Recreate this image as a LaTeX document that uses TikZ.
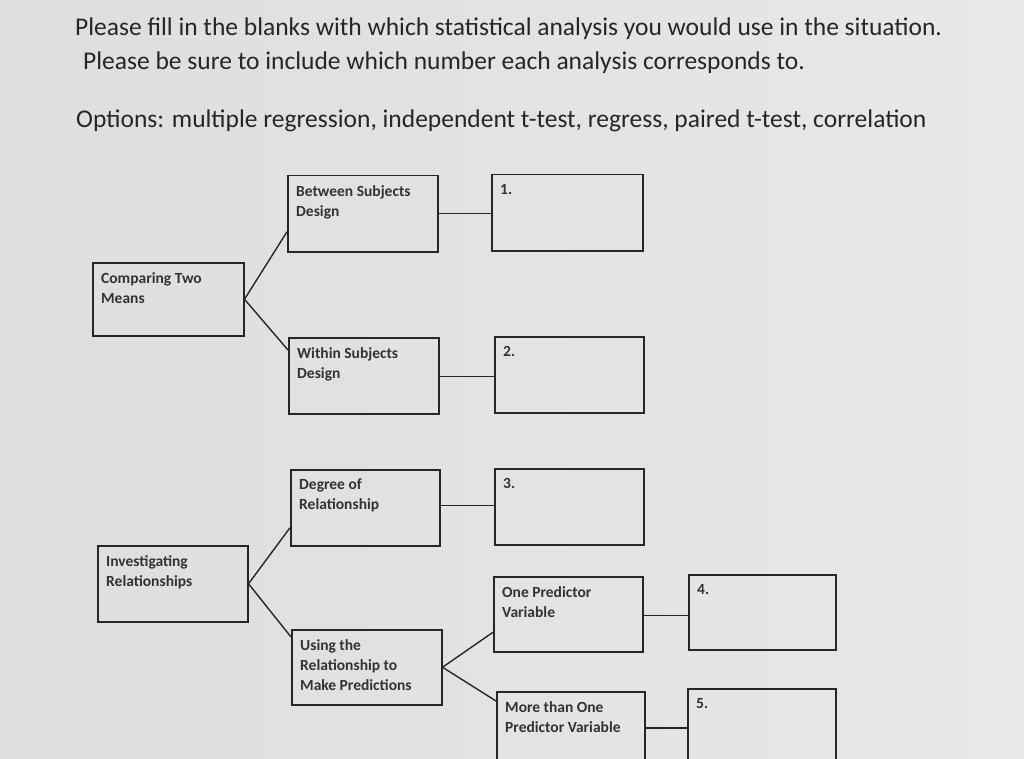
\documentclass[tikz,border=0pt]{standalone}
\usepackage{fontspec}
\setmainfont{Carlito}
\begin{document}
\begin{tikzpicture}[x=1pt,y=-1pt,
  box/.style={draw=black!85,line width=1.5pt,anchor=north west,inner sep=0pt},
  lbl/.style={anchor=north west,align=left,font=\fontsize{15.5}{20}\selectfont\bfseries,text=black!80,inner sep=0pt},
  conn/.style={draw=black!85,line width=1.4pt}]
\useasboundingbox (0,0) rectangle (1024,759);
\clip (0,0) rectangle (1024,759);
\fill[left color=black!13,right color=black!9] (0,0) rectangle (1024,759);
\node[anchor=north west,align=left,font=\fontsize{25.5}{34}\selectfont,text=black!85,inner sep=0pt] (t1) at (75,18) {Please fill in the blanks with which statistical analysis you would use in the situation.\\\hspace*{8pt}Please be sure to include which number each analysis corresponds to.};
\node[anchor=north west,font=\fontsize{25.5}{30}\selectfont,text=black!85,inner sep=0pt] (t2) at (76,110) {Options: multiple regression, independent t-test, regress, paired t-test, correlation};
\newcommand{\bx}[6]{\node[box,minimum width=#4-#2,minimum height=#5-#3] (#1) at (#2,#3) {};
  \node[lbl] (#1t) at (#2+9,#3+10) {#6};}
\bx{cmp}{92}{262}{243}{335}{Comparing Two\\Means}
\bx{bet}{287}{175}{437}{251}{Between Subjects\\Design}
\bx{a1}{491}{174}{642}{250}{1.}
\bx{wit}{288}{337}{438}{413}{Within Subjects\\Design}
\bx{a2}{494}{336}{643}{412}{2.}
\bx{deg}{290}{469}{439}{545}{Degree of\\Relationship}
\bx{a3}{494}{468}{643}{544}{3.}
\bx{inv}{97}{545}{247}{621}{Investigating\\Relationships}
\bx{one}{493}{576}{642}{651}{One Predictor\\Variable}
\bx{a4}{688}{574}{835}{649}{4.}
\bx{use}{291}{629}{441}{704}{Using the\\Relationship to\\Make Predictions}
\bx{more}{496}{691}{644}{780}{More than One\\Predictor Variable}
\bx{a5}{687}{688}{835}{780}{5.}
\draw[conn] (cmp.east) -- ([yshift=-18pt]bet.west);
\draw[conn] (cmp.east) -- ([yshift=-13pt]wit.north west);
\draw[conn] (inv.east) -- ([yshift=-20pt]deg.west);
\draw[conn] (inv.east) -- ([yshift=-8pt]use.north west);
\draw[conn] (use.east) -- ([yshift=-18pt]one.west);
\draw[conn] (use.east) -- ([yshift=-10pt]more.north west);
\draw[conn] (bet.east) -- (bet.east -| a1.west);
\draw[conn] ([yshift=-1pt]wit.east) -- ([yshift=-1pt]wit.east -| a2.west);
\draw[conn] ([yshift=2pt]deg.east) -- ([yshift=2pt]deg.east -| a3.west);
\draw[conn] ([yshift=-1pt]one.east) -- ([yshift=-1pt]one.east -| a4.west);
\draw[conn] (more.north east |- 0,728) -- (a5.west |- 0,728);
\end{tikzpicture}
\end{document}
